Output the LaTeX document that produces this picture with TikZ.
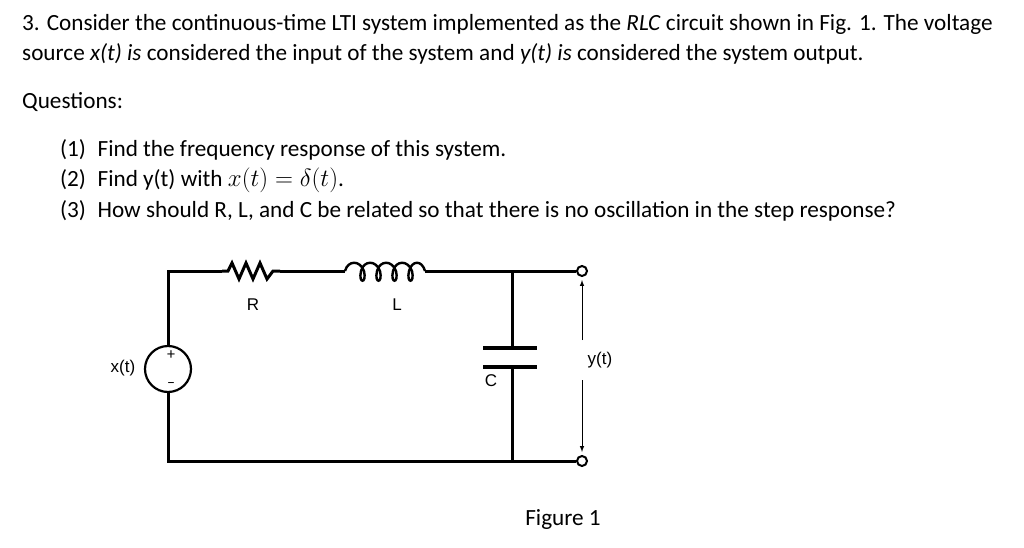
\documentclass[tikz,border=0pt]{standalone}
\usepackage{fontspec}
\setmainfont{Carlito}
\newfontfamily\arialf{Liberation Sans}
\begin{document}
\begin{tikzpicture}[x=1pt,y=-1pt,
  txt/.style={anchor=west,inner sep=0pt,font=\fontsize{23.2}{26}\selectfont},
  lab/.style={inner sep=0pt,font=\arialf\fontsize{17}{18}\selectfont},
  wire/.style={line width=3pt,line join=miter},
  term/.style={circle,draw,line width=2pt,inner sep=0pt,minimum size=10pt,fill=white}]
\useasboundingbox (0,0) rectangle (1024,548);
\node[txt] (l1) at (22,24) {3. Consider the continuous-time LTI system implemented as the \textit{RLC} circuit shown in Fig. 1. The voltage};
\node[txt] (l2) at (22,54) {source \textit{x(t) is} considered the input of the system and \textit{y(t) is} considered the system output.};
\node[txt] (l3) at (22,102) {Questions:};
\node[txt] (q1) at (60,150) {(1)\enspace Find the frequency response of this system.};
\node[txt] (q2) at (60,180) {(2)\enspace Find y(t) with $x(t)=\delta(t)$.};
\node[txt] (q3) at (60,211) {(3)\enspace How should R, L, and C be related so that there is no oscillation in the step response?};
% nodes
\node[circle,draw,line width=2.2pt,minimum size=46pt,inner sep=0pt] (src) at (168,369) {};
\node[font=\fontsize{16}{16}\selectfont] at (171,355) {+};
\node[font=\fontsize{16}{16}\selectfont] at (171,385) {--};
\coordinate (tl) at (168,271);
\coordinate (bl) at (168,461);
\coordinate (r1) at (222,271); \coordinate (r2) at (280,271);
\coordinate (i1) at (345,271); \coordinate (i2) at (425,271);
\coordinate (ct) at (512,271); \coordinate (cb) at (512,461);
\coordinate (p1) at (512,348); \coordinate (p2) at (512,367);
\node[term] (ot) at (582,271) {};
\node[term] (ob) at (582,461) {};
\draw[wire] (src.north) -- (tl) -- (r1);
\draw[wire] (r1) -- ++(6,0) -- ++(4,-8) -- ++(7,16) -- ++(7,-16) -- ++(7,16) -- ++(7,-16) -- ++(7,16) -- ++(6,-8) -- (r2);
\draw[wire] (r2) -- (i1);
\draw[line width=2.4pt] (i1) .. controls (348,260) and (360,260) .. (364,271)
  .. controls (367,284) and (358,284) .. (361,271)
  .. controls (364,260) and (376,260) .. (380,271)
  .. controls (383,284) and (374,284) .. (377,271)
  .. controls (380,260) and (392,260) .. (396,271)
  .. controls (399,284) and (390,284) .. (393,271)
  .. controls (396,260) and (408,260) .. (412,271)
  .. controls (415,284) and (406,284) .. (409,271)
  .. controls (412,260) and (422,260) .. (425,271);
\draw[wire] (i2) -- (ct) -- (ot.west);
\draw[wire] (ct) -- (p1);
\draw[line width=3.5pt] (483,348) -- (537,348);
\draw[line width=3.5pt] (483,367) -- (537,367);
\draw[wire] (p2) -- (cb);
\draw[wire] (src.south) -- (bl) -- (cb) -- (ob.west);
\node[lab] (R) at (253,305) {R};
\node[lab] (L) at (397,305) {L};
\node[lab] (C) at (491,381) {C};
\node[lab] (x) at (123,368) {x(t)};
\node[lab] (y) at (600,360) {y(t)};
\draw[line width=1pt,-{latex}] (582,340) -- (582,280);
\draw[line width=1pt,-{latex}] (582,380) -- (582,452);
\node[font=\fontsize{23.2}{26}\selectfont,inner sep=0pt] (fig) at (563,520) {Figure 1};
\end{tikzpicture}
\end{document}
